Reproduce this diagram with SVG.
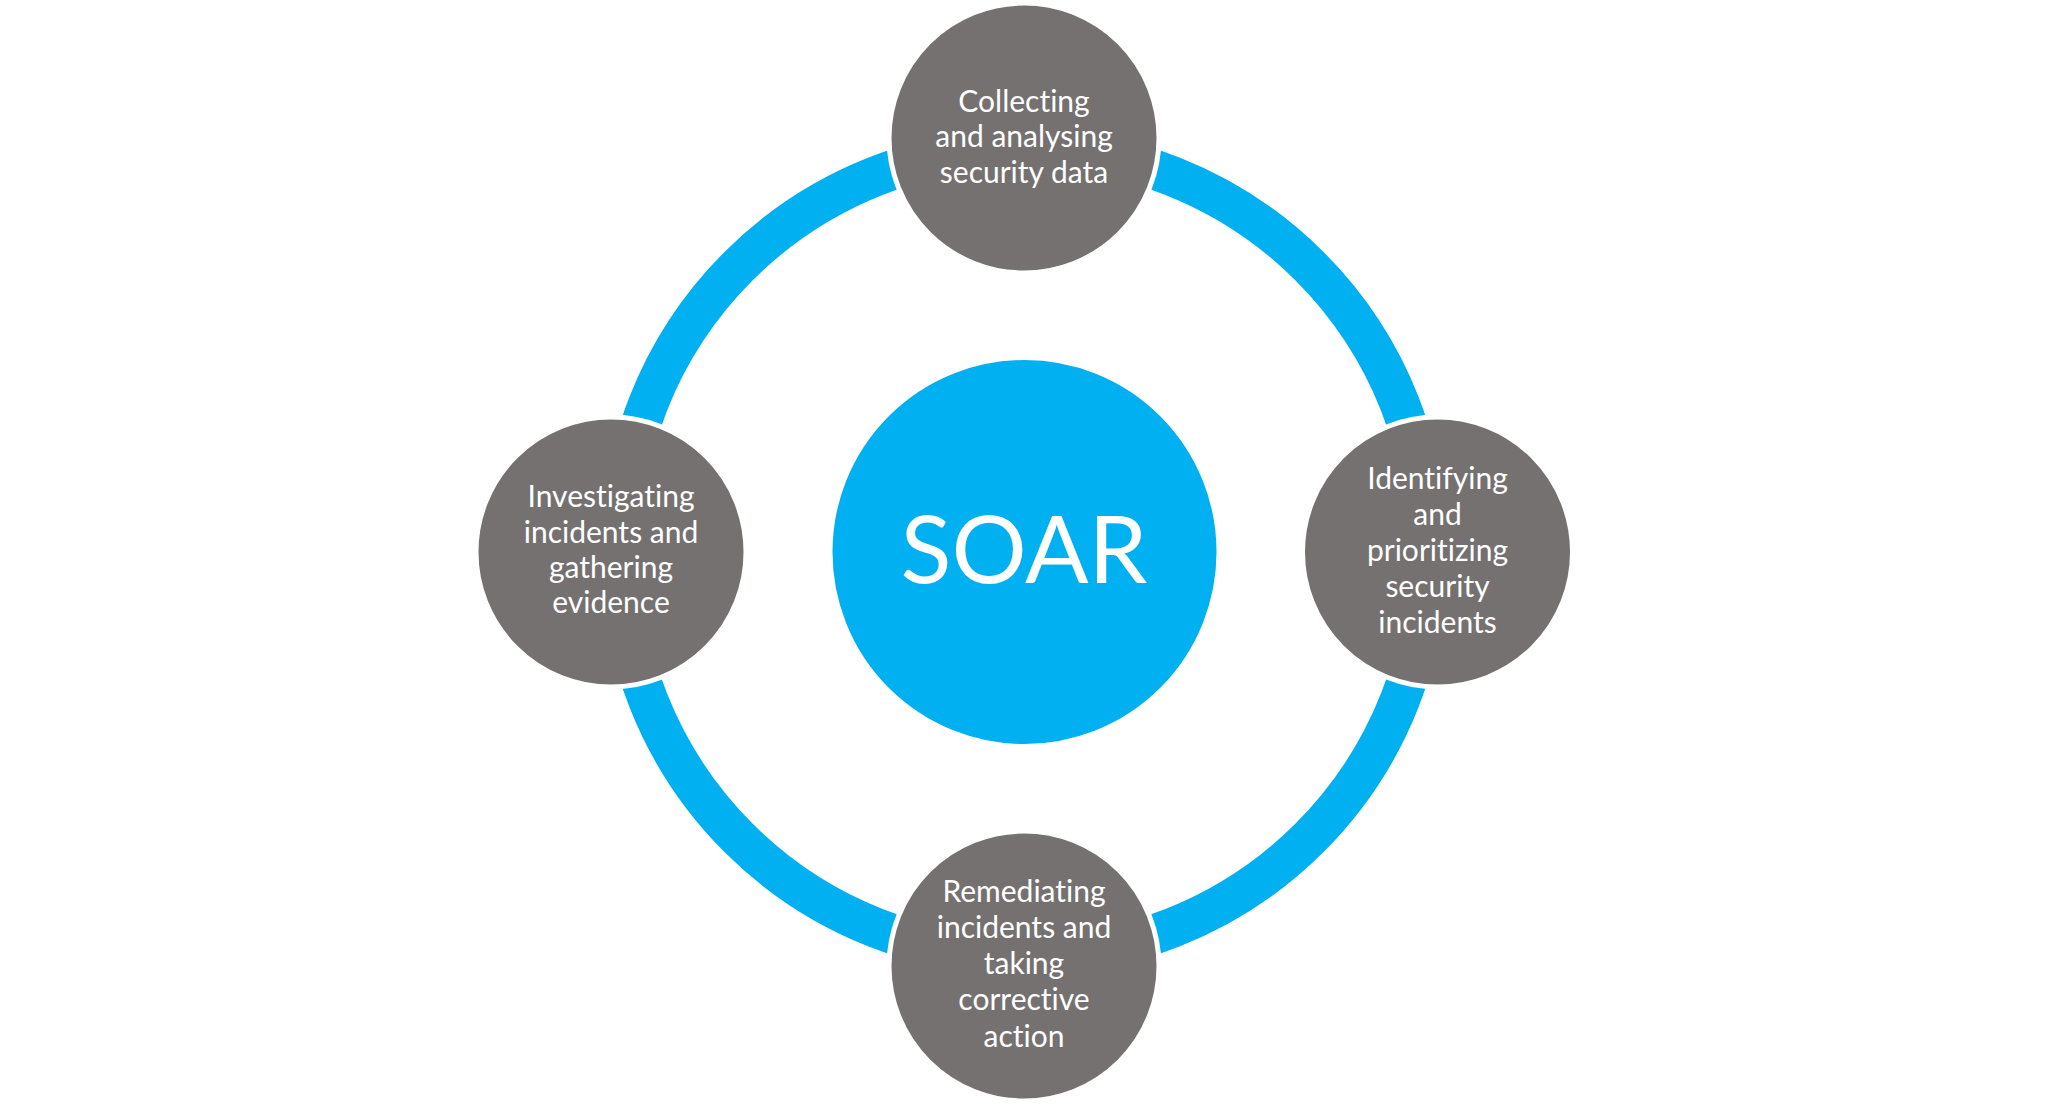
<svg xmlns="http://www.w3.org/2000/svg" width="2048" height="1105" viewBox="0 0 2048 1105">
  <style>
    .arc { fill: none; stroke: #00B0F0; stroke-width: 40; }
    .node { fill: #767171; stroke: #FFFFFF; stroke-width: 5; }
    .hub { fill: #00B0F0; stroke: #FFFFFF; stroke-width: 2; }
    .lbl { font-family: Lato, "Open Sans", "Liberation Sans", sans-serif; font-size: 30px; fill: #FFFFFF; text-anchor: middle; font-variant-ligatures: none; }
    .hubtxt { font-family: Lato, "Open Sans", "Liberation Sans", sans-serif; font-size: 94px; fill: #FFFFFF; text-anchor: middle; }
  </style>
  <rect width="2048" height="1105" fill="#FFFFFF"/>
  <g id="connectors">
    <path class="arc" d="M 1024 148 A 404 404 0 0 1 1428 552"/>
    <path class="arc" d="M 1428 552 A 404 404 0 0 1 1024 956"/>
    <path class="arc" d="M 1024 956 A 404 404 0 0 1 620 552"/>
    <path class="arc" d="M 620 552 A 404 404 0 0 1 1024 148"/>
  </g>
  <g id="hub">
    <circle class="hub" cx="1024.5" cy="552" r="193"/>
    <text class="hubtxt" x="1024" y="583">SOAR</text>
  </g>
  <g id="node-collect">
    <circle class="node" cx="1024" cy="138" r="135"/>
    <text class="lbl" x="1024" y="112">Collecting</text>
    <text class="lbl" x="1024" y="147">and analysing</text>
    <text class="lbl" x="1024" y="183">security data</text>
  </g>
  <g id="node-identify">
    <circle class="node" cx="1437.5" cy="552" r="135"/>
    <text class="lbl" x="1437.5" y="489">Identifying</text>
    <text class="lbl" x="1437.5" y="525">and</text>
    <text class="lbl" x="1437.5" y="561">prioritizing</text>
    <text class="lbl" x="1437.5" y="597">security</text>
    <text class="lbl" x="1437.5" y="633">incidents</text>
  </g>
  <g id="node-remediate">
    <circle class="node" cx="1024" cy="966" r="135"/>
    <text class="lbl" x="1024" y="902">Remediating</text>
    <text class="lbl" x="1024" y="938">incidents and</text>
    <text class="lbl" x="1024" y="974">taking</text>
    <text class="lbl" x="1024" y="1010">corrective</text>
    <text class="lbl" x="1024" y="1047">action</text>
  </g>
  <g id="node-investigate">
    <circle class="node" cx="611" cy="552" r="135"/>
    <text class="lbl" x="611" y="507">Investigating</text>
    <text class="lbl" x="611" y="543">incidents and</text>
    <text class="lbl" x="611" y="578">gathering</text>
    <text class="lbl" x="611" y="613">evidence</text>
  </g>
</svg>
